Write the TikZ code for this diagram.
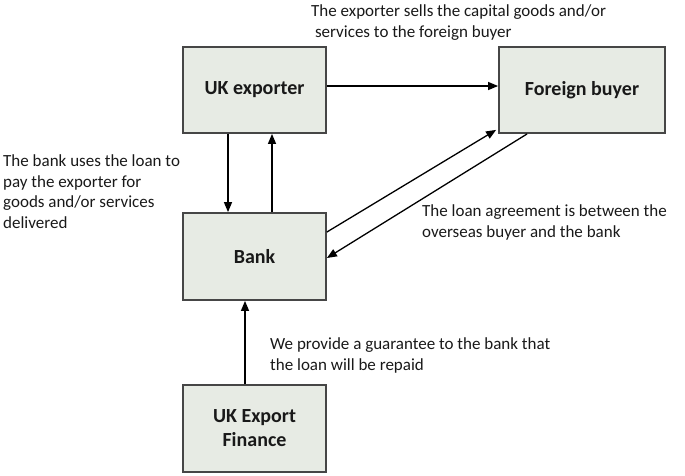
\documentclass[tikz,border=0pt]{standalone}
\usepackage{fontspec}
\setmainfont{Carlito}
\usepackage{xcolor}
\usetikzlibrary{arrows.meta}
\definecolor{boxfill}{RGB}{231,235,228}
\definecolor{boxline}{RGB}{70,70,70}
\definecolor{txtcol}{RGB}{25,25,25}

\begin{document}
\begin{tikzpicture}[x=1pt, y=-1pt,
    every node/.style={font=\fontsize{17}{20.5}\selectfont, text=txtcol},
    party/.style={draw=boxline, fill=boxfill, line width=1.8pt,
      inner sep=0pt, font=\fontsize{20}{24}\selectfont\bfseries, align=center},
    note/.style={anchor=base west, inner sep=0pt, align=left},
    flow/.style={black, line width=1.3pt, -{Triangle[length=10pt, width=8pt]}}]

    \useasboundingbox (0,0) rectangle (685,475);

    %% parties
    \node[party, minimum width=143pt, minimum height=86pt] (exporter)
      at (254.5, 90) {UK exporter};
    \node[party, minimum width=166pt, minimum height=86pt] (buyer)
      at (582, 90) {Foreign buyer};
    \node[party, minimum width=143pt, minimum height=87pt] (bank)
      at (254.5, 256.5) {Bank};
    \node[party, minimum width=143pt, minimum height=87pt] (ukef)
      at (254.5, 428.5) {UK Export\\Finance};

    %% flows between parties
    \draw[flow] ([yshift=4pt]exporter.east) -- ([yshift=4pt]buyer.west);
    \draw[flow] ([xshift=-26.5pt]exporter.south) -- ([xshift=-26.5pt]bank.north);
    \draw[flow] ([xshift=17.5pt]bank.north) -- ([xshift=17.5pt]exporter.south);
    \draw[flow] ([yshift=24.5pt]bank.east) -- ([xshift=-2pt, yshift=4pt]buyer.south west);
    \draw[flow] ([xshift=29pt]buyer.south west) -- ([yshift=-1.5pt]bank.east);
    \draw[flow] ([xshift=-9.5pt]ukef.north) -- ([xshift=-9.5pt]bank.south);

    %% notes (anchored at the baseline of their last line)
    \node[note] (sells) at (311, 37)
      {The exporter sells the capital goods and/or\\\ services to the foreign buyer};
    \node[note] (pays) at (3, 228)
      {The bank uses the loan to\\pay the exporter for\\goods and/or services\\delivered};
    \node[note] (loan) at (422, 237)
      {The loan agreement is between the\\overseas buyer and the bank};
    \node[note] (guarantee) at (270, 370)
      {We provide a guarantee to the bank that\\the loan will be repaid};

\end{tikzpicture}
\end{document}
